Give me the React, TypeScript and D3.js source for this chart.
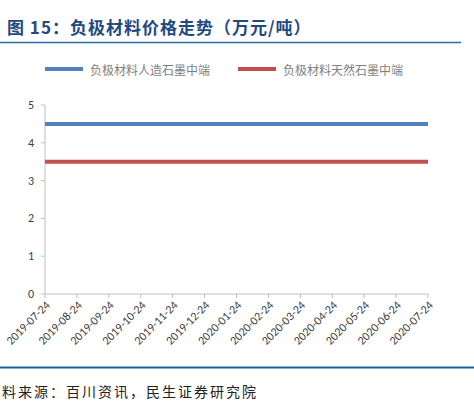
import { useEffect, useRef } from 'react';
import * as d3 from 'd3';

const dates = [
  '2019-07-24', '2019-08-24', '2019-09-24', '2019-10-24', '2019-11-24', '2019-12-24',
  '2020-01-24', '2020-02-24', '2020-03-24', '2020-04-24', '2020-05-24', '2020-06-24', '2020-07-24',
];
const artificialMid = [4.5, 4.5, 4.5, 4.5, 4.5, 4.5, 4.5, 4.5, 4.5, 4.5, 4.5, 4.5, 4.5];
const naturalMid = [3.5, 3.5, 3.5, 3.5, 3.5, 3.5, 3.5, 3.5, 3.5, 3.5, 3.5, 3.5, 3.5];
const seriesNames = ['负极材料人造石墨中端', '负极材料天然石墨中端'];
const seriesColors = ['#4F81BD', '#C0504D'];
const yTicks = [0, 1, 2, 3, 4, 5];

export default function App() {
  const svgRef = useRef<SVGSVGElement>(null);
  const width = 474;
  const height = 411;

  useEffect(() => {
    if (!svgRef.current) return;
    const svg = d3.select(svgRef.current);
    svg.selectAll('*').remove();

    const cjk = '"Noto Sans CJK SC", sans-serif';
    const latin = 'Carlito, "Open Sans", "Liberation Sans", sans-serif';
    const left = 45, right = 428, top = 105, bottom = 294;

    // title + rule
    svg.append('text')
      .attr('x', 7).attr('y', 34)
      .attr('font-family', cjk).attr('font-weight', 'bold')
      .attr('font-size', 17).attr('letter-spacing', 1)
      .attr('fill', '#1F4A80')
      .text('图 15：负极材料价格走势（万元/吨）');
    svg.append('line')
      .attr('x1', 0).attr('x2', 461).attr('y1', 42.5).attr('y2', 42.5)
      .attr('stroke', '#2C6AA8').attr('stroke-width', 1.5);

    // legend
    const legendX = [45, 238];
    seriesNames.forEach((name, i) => {
      svg.append('line')
        .attr('x1', legendX[i]).attr('x2', legendX[i] + 38)
        .attr('y1', 69).attr('y2', 69)
        .attr('stroke', seriesColors[i]).attr('stroke-width', 4);
      svg.append('text')
        .attr('x', legendX[i] + 45).attr('y', 69)
        .attr('dominant-baseline', 'central')
        .attr('font-family', cjk).attr('font-size', 12)
        .attr('fill', '#7f7f7f')
        .text(name);
    });

    const x = d3.scalePoint<string>().domain(dates).range([left, right]);
    const y = d3.scaleLinear().domain([0, 5]).range([bottom, top]);

    // y axis
    svg.append('line')
      .attr('x1', left).attr('x2', left).attr('y1', top).attr('y2', bottom)
      .attr('stroke', '#bfbfbf');
    yTicks.forEach(t => {
      svg.append('line')
        .attr('x1', left - 4).attr('x2', left).attr('y1', y(t)).attr('y2', y(t))
        .attr('stroke', '#bfbfbf');
      svg.append('text')
        .attr('x', left - 11).attr('y', y(t))
        .attr('text-anchor', 'end').attr('dominant-baseline', 'central')
        .attr('font-family', latin)
        .attr('font-size', 12).attr('fill', '#404040')
        .text(t);
    });

    // x axis
    svg.append('line')
      .attr('x1', left).attr('x2', right).attr('y1', bottom).attr('y2', bottom)
      .attr('stroke', '#bfbfbf');
    dates.forEach(d => {
      const px = x(d)!;
      svg.append('line')
        .attr('x1', px).attr('x2', px).attr('y1', bottom).attr('y2', bottom + 4)
        .attr('stroke', '#bfbfbf');
      svg.append('text')
        .attr('transform', `translate(${px + 3},${bottom + 9}) rotate(-45)`)
        .attr('text-anchor', 'end').attr('dominant-baseline', 'central')
        .attr('font-family', latin)
        .attr('font-size', 12).attr('fill', '#404040')
        .text(d);
    });

    // lines
    const line = d3.line<number>()
      .x((_, i) => x(dates[i])!)
      .y(v => y(v));
    [artificialMid, naturalMid].forEach((vals, i) => {
      svg.append('path')
        .datum(vals)
        .attr('d', line)
        .attr('fill', 'none')
        .attr('stroke', seriesColors[i])
        .attr('stroke-width', 4);
    });

    // bottom rule + source
    svg.append('line')
      .attr('x1', 0).attr('x2', 474).attr('y1', 367.5).attr('y2', 367.5)
      .attr('stroke', '#1F5C94').attr('stroke-width', 2);
    svg.append('text')
      .attr('x', 2).attr('y', 391)
      .attr('dominant-baseline', 'central')
      .attr('font-family', cjk).attr('font-size', 14).attr('letter-spacing', 2)
      .attr('fill', '#222')
      .text('料来源：百川资讯，民生证券研究院');
  }, []);

  return (
    <svg
      ref={svgRef}
      width={width}
      height={height}
      viewBox={`0 0 ${width} ${height}`}
      style={{ position: 'absolute', left: 0, top: 0, background: '#fff' }}
    />
  );
}
